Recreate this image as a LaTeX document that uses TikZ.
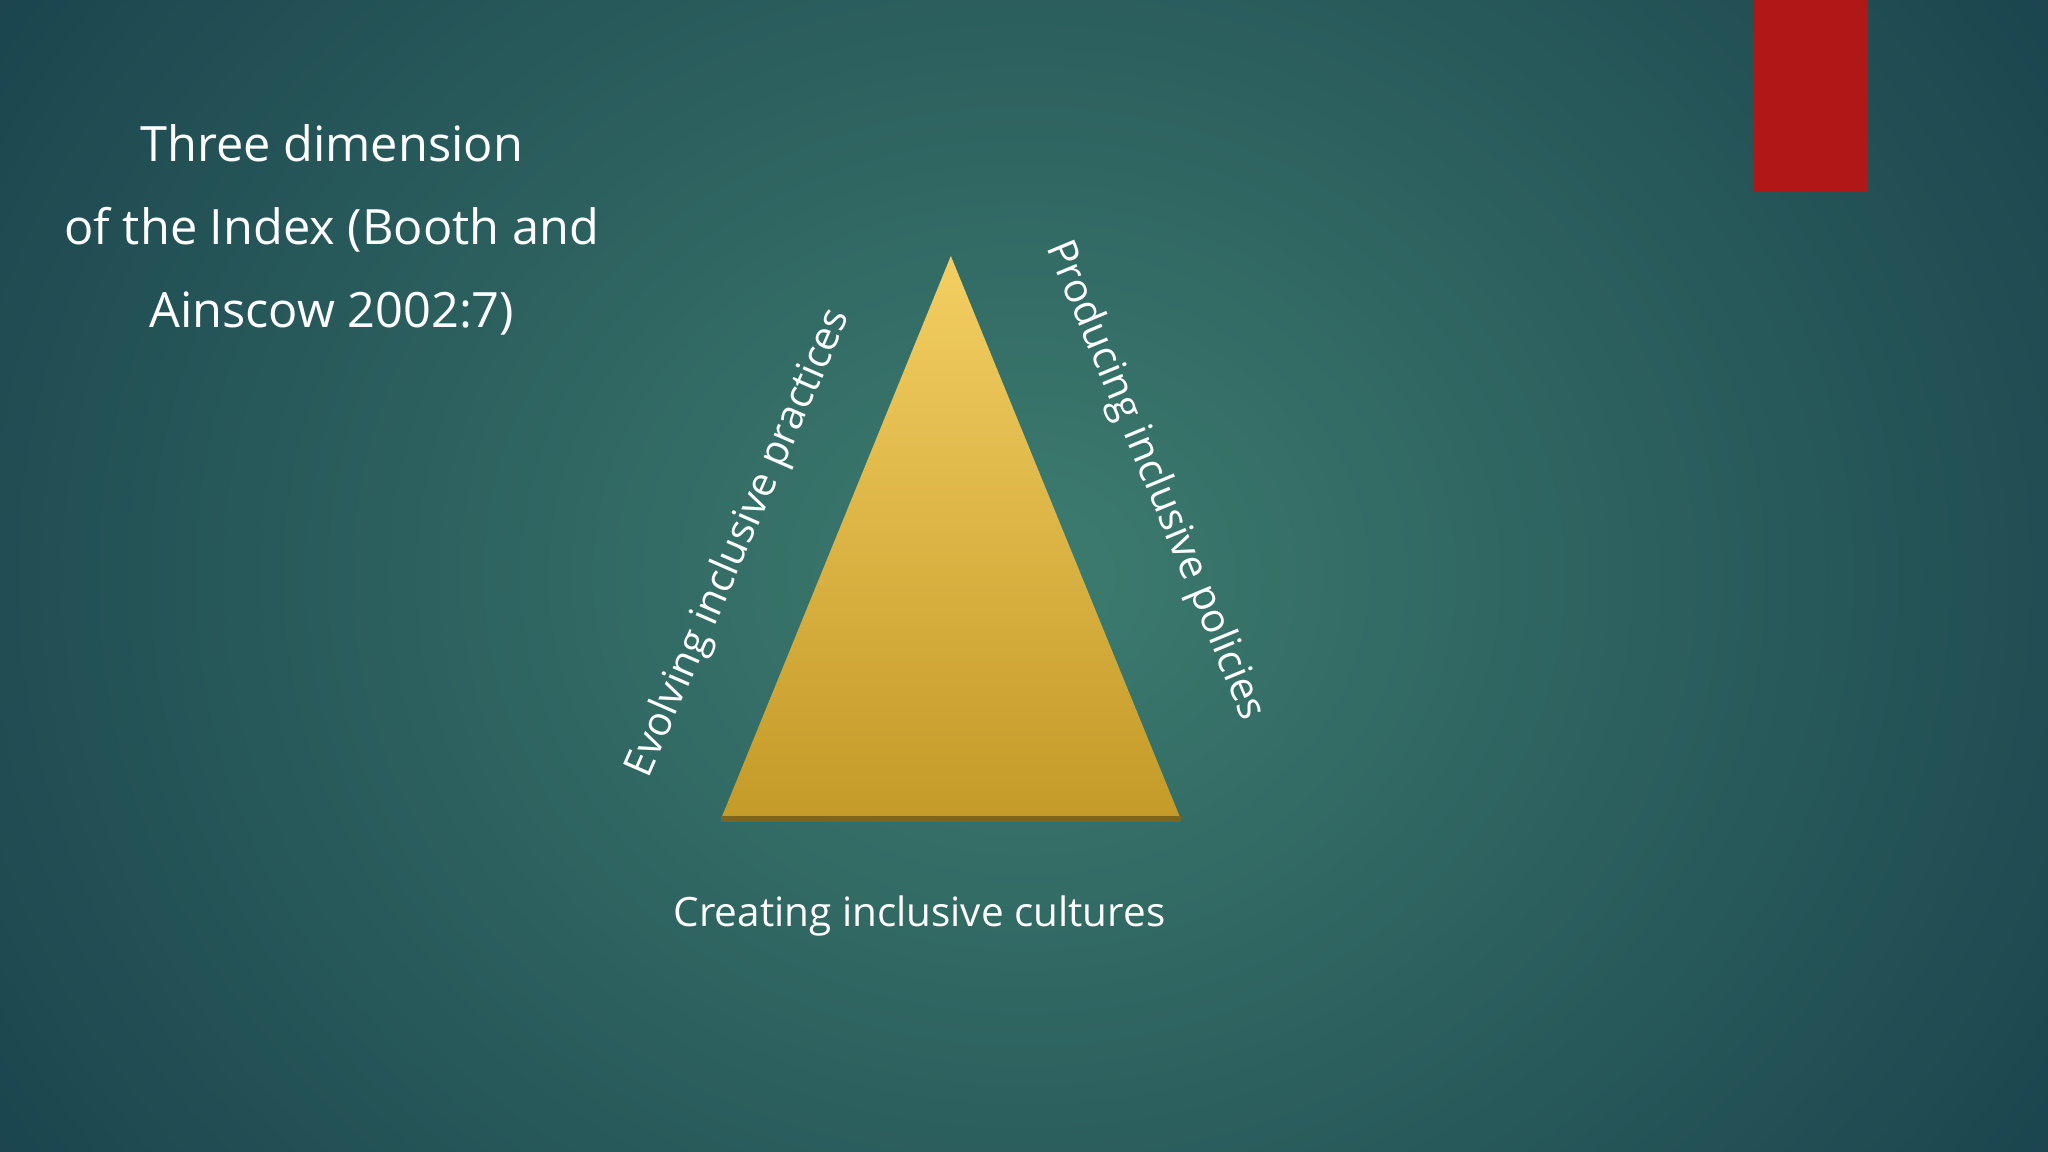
\documentclass[tikz,border=0pt]{standalone}
\usepackage{fontspec}
\setmainfont{Open Sans}
\begin{document}
\begin{tikzpicture}[x=0.01cm,y=-0.01cm,
  lbl/.style={text=white,font=\fontsize{8.8pt}{11pt}\selectfont,inner sep=0pt},
  ttl/.style={text=white,font=\fontsize{10.6pt}{18pt}\selectfont,align=center,inner sep=0pt}]
\definecolor{bgin}{HTML}{3D7C6F}
\definecolor{bgout}{HTML}{163C49}
\definecolor{tritop}{HTML}{F3CE62}
\definecolor{tribot}{HTML}{C49A28}
\definecolor{redbar}{HTML}{B01818}
\useasboundingbox (0,0) rectangle (1568,882);
\shade[inner color=bgin,outer color=bgout] (-300,-500) rectangle (1868,1382);
\fill[redbar] (1343,0) rectangle (1430,147);
\coordinate (apex) at (728,196);
\coordinate (bl) at (552,627);
\coordinate (br) at (904,627);
\shade[top color=tritop,bottom color=tribot] (apex) -- (br) -- (bl) -- cycle;
\draw[line width=1.2pt,color=black!35!tribot] (bl) -- (br);
\node[ttl] (title) at (254,176) {Three dimension\\of the Index (Booth and\\Ainscow 2002:7)};
\node[lbl,rotate=66.5] (left) at (566,416) {Evolving inclusive practices};
\node[lbl,rotate=-67.5] (right) at (884,368) {Producing inclusive policies};
\node[lbl] (bottom) at (704,701) {Creating inclusive cultures};
\end{tikzpicture}
\end{document}
